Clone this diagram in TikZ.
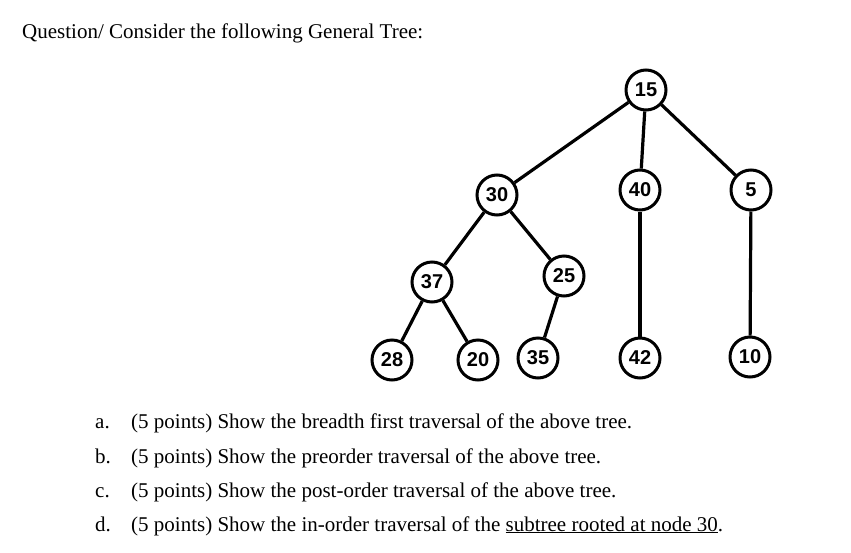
\documentclass[tikz,border=0pt]{standalone}
\usepackage{fontspec}
\setmainfont{Liberation Serif}
\newfontfamily\arialf{Liberation Sans}
\begin{document}
\begin{tikzpicture}[x=1pt,y=-1pt,
  tn/.style={circle,draw,line width=3pt,minimum size=40pt,inner sep=0pt,font=\arialf\bfseries\fontsize{20}{22}\selectfont},
  ed/.style={line width=3.2pt},
  qt/.style={anchor=base west,inner sep=0pt,font=\fontsize{21}{24}\selectfont}]
\useasboundingbox (0,0) rectangle (851,552);
\node[tn] (n15) at (646,90) {15};
\node[tn] (n30) at (497,195) {30};
\node[tn] (n40) at (640,190) {40};
\node[tn] (n5) at (751,190) {5};
\node[tn] (n37) at (432,282) {37};
\node[tn] (n25) at (564,276) {25};
\node[tn] (n28) at (392,360) {28};
\node[tn] (n20) at (478,360) {20};
\node[tn] (n35) at (538,358) {35};
\node[tn] (n42) at (640,358) {42};
\node[tn] (n10) at (750,357) {10};
\foreach \a/\b in {n15/n30,n15/n40,n15/n5,n30/n37,n30/n25,n37/n28,n37/n20,n25/n35,n40/n42,n5/n10}
  \draw[ed] (\a) -- (\b);
\node[qt] (q) at (22,38) {Question/ Consider the following General Tree:};
\node[qt] (la) at (95,428) {a.};
\node[qt] (ta) at (131,428) {(5 points) Show the breadth first traversal of the above tree.};
\node[qt] (lb) at (95,463) {b.};
\node[qt] (tb) at (131,463) {(5 points) Show the preorder traversal of the above tree.};
\node[qt] (lc) at (95,497) {c.};
\node[qt] (tc) at (131,497) {(5 points) Show the post-order traversal of the above tree.};
\node[qt] (ld) at (95,531) {d.};
\node[qt] (td) at (131,531) {(5 points) Show the in-order traversal of the \underline{subtree rooted at node 30}.};
\end{tikzpicture}
\end{document}
